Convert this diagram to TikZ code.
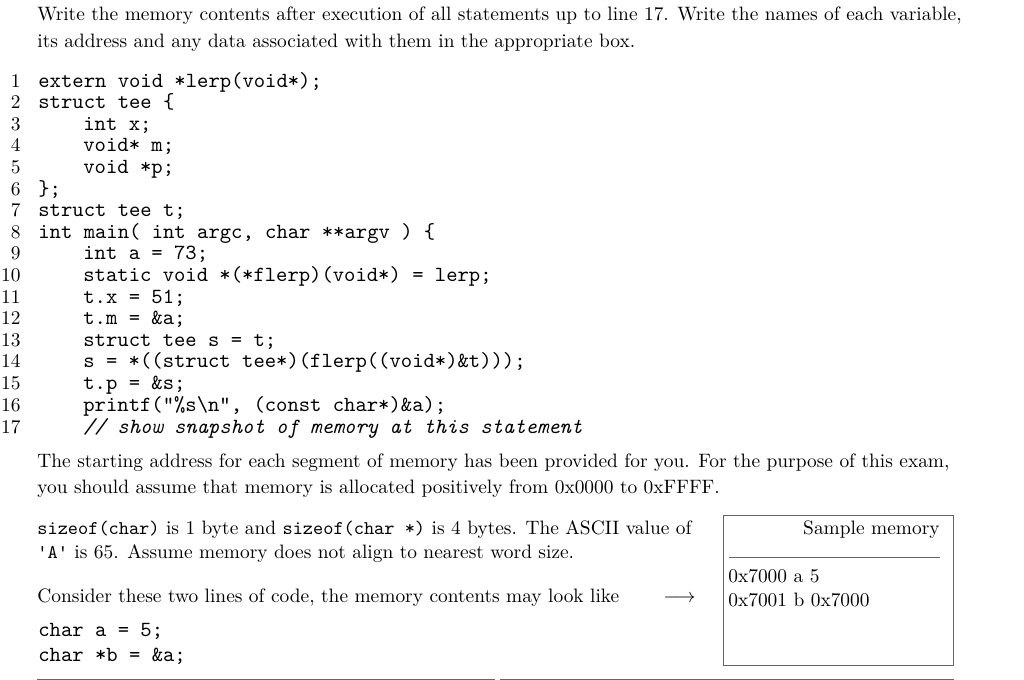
\documentclass[tikz,border=0pt]{standalone}
\usepackage{tikz}
\usetikzlibrary{positioning}
\tikzset{
  txt/.style={anchor=base west, inner sep=0pt, font=\fontsize{9.7}{12}\selectfont},
  code/.style={anchor=base west, inner sep=0pt, font=\fontsize{10.8}{12}\selectfont\ttfamily},
  lno/.style={anchor=base east, inner sep=0pt, font=\fontsize{9.7}{12}\selectfont}
}
\begin{document}
\begin{tikzpicture}[x=0.5pt, y=-0.5pt]
\useasboundingbox (0,0) rectangle (1024,680);

% Question text
\node[txt] (q1) at (37,20) {Write the memory contents after execution of all statements up to line 17. Write the names of each variable,};
\node[txt] (q2) at (37,47) {its address and any data associated with them in the appropriate box.};

% Listing
\foreach \n/\ind/\line [count=\i] in {
  1/0/{extern void *lerp(void*);},
  2/0/{struct tee \{},
  3/1/{int x;},
  4/1/{void* m;},
  5/1/{void *p;},
  6/0/{\};},
  7/0/{struct tee t;},
  8/0/{int main( int argc, char **argv ) \{},
  9/1/{int a = 73;},
  10/1/{static void *(*flerp)(void*) = lerp;},
  11/1/{t.x = 51;},
  12/1/{t.m = \&a;},
  13/1/{struct tee s = t;},
  14/1/{s = *((struct tee*)(flerp((void*)\&t)));},
  15/1/{t.p = \&s;},
  16/1/{printf("\%s\textbackslash n", (const char*)\&a);}} {
  \node[lno] (n\n) at (21,{87+(\i-1)*21.6}) {\n};
  \node[code] (c\n) at ({38+45*\ind},{87+(\i-1)*21.6}) {\line};
}
\node[lno] (n17) at (21,433) {17};
\node[code, font=\fontsize{10.8}{12}\selectfont\ttfamily\itshape] (c17) at (83,433) {// show snapshot of memory at this statement};

% Notes
\node[txt] (p1) at (37,467) {The starting address for each segment of memory has been provided for you. For the purpose of this exam,};
\node[txt] (p2) at (37,493) {you should assume that memory is allocated positively from 0x0000 to 0xFFFF.};
\node[txt] (s1) at (37,534) {\texttt{sizeof(char)} is 1 byte and \texttt{sizeof(char *)} is 4 bytes. The ASCII value of};
\node[txt] (s2) at (37,558) {\texttt{'A'} is 65. Assume memory does not align to nearest word size.};
\node[txt] (s3) at (37,602) {Consider these two lines of code, the memory contents may look like};
\node[code] (e1) at (38,636) {char a = 5;};
\node[code] (e2) at (38,661) {char *b = \&a;};

% Sample memory box
\draw[gray!80!black] (723,515) rectangle (953,665);
\node[txt, anchor=base east] (title) at (940,534) {Sample memory};
\draw[gray!80!black] (729,557) -- (940,557);
\node[txt] (m1) at (728,582) {0x7000 a 5};
\node[txt] (m2) at (728,606) {0x7001 b 0x7000};
\node[txt] (arr) at (663,602) {$\longrightarrow$};

% Answer boxes below
\draw[gray!80!black] (37,690) |- (494,679) -- (494,690);
\draw[gray!80!black] (500,690) |- (953,679) -- (953,690);
\end{tikzpicture}
\end{document}
